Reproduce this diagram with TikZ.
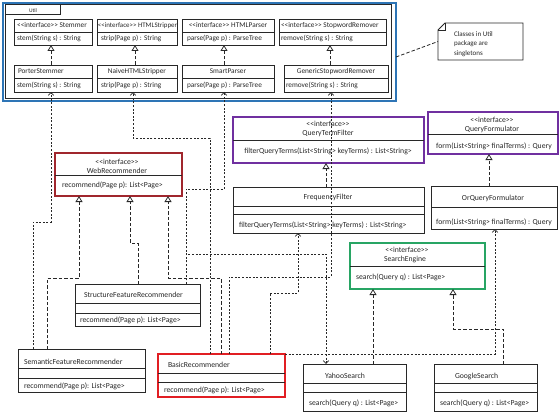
\documentclass[tikz,border=0pt]{standalone}
\usepackage{fontspec}
\newfontfamily\umlfont{Carlito}
\usetikzlibrary{arrows.meta}
\definecolor{pkgblue}{RGB}{46,117,182}
\definecolor{webred}{RGB}{160,38,45}
\definecolor{basicred}{RGB}{225,30,35}
\definecolor{qpurple}{RGB}{112,48,160}
\definecolor{segreen}{RGB}{40,165,100}
\definecolor{ink}{RGB}{40,40,40}
\newcommand{\umlbox}[6][]{%
  \node[classbox,#1,minimum width={(#5-#3)*1pt},minimum height={(#6-#4)*1pt}] (#2) at ({(#3+#5)/2},{(#4+#6)/2}) {};}
\newcommand{\hdiv}[2]{\draw[divline] (#1.west |- 0,#2) -- (#1.east |- 0,#2);}
\begin{document}
\begin{tikzpicture}[x=1pt,y=-1pt,
  every node/.style={font=\umlfont\fontsize{7.7}{8.5}\selectfont, text=ink, inner sep=0pt, outer sep=0pt},
  utiltext/.style={font=\umlfont\fontsize{7.3}{8}\selectfont},
  classbox/.style={draw=ink, line width=0.8pt, fill=white},
  colbox/.style={line width=1.4pt},
  lft/.style={anchor=west},
  divline/.style={draw=ink, line width=0.8pt},
  real/.style={draw=ink, line width=0.8pt, dash pattern=on 3.5pt off 2pt, -{Triangle[length=6pt, width=7pt, fill=white]}},
  dep/.style={draw=ink, line width=0.8pt, dash pattern=on 2pt off 1.6pt, -{Straight Barb[length=2.8pt, width=5.5pt]}},
  notelink/.style={draw=ink, line width=0.8pt, dash pattern=on 3.5pt off 2pt},
]
\fill[white] (0,0) rectangle (560,420);
\useasboundingbox (0,0) rectangle (560,420);

% ---------- Util package ----------
\node[draw=pkgblue, line width=1.5pt, minimum width=393pt, minimum height=98pt] (pkghl) at (199.5,52) {};
\node[draw=ink, line width=0.8pt, minimum width=386pt, minimum height=94pt] (pkg) at (198,51) {};
\draw[ink, line width=0.8pt] (pkg.north west) ++(0,10) -- ++(55,0) -- ++(0,-10);
\node[font=\umlfont\fontsize{5.5}{6}\selectfont] (utilt) at (33,10.5) {Util};

% row 1 interfaces
\umlbox{stemmer}{14}{19}{92}{45}
\umlbox{hstrip}{97}{19}{177}{45}
\umlbox{hparse}{182}{19}{274}{45}
\umlbox{swrem}{279}{19}{386}{45}
\hdiv{stemmer}{32}\hdiv{hstrip}{32}\hdiv{hparse}{32}\hdiv{swrem}{32}
\node[utiltext] (t1) at (52,25.5) {<<interface>> Stemmer};
\node[utiltext,lft] (t2) at (17,38.5) {stem(String s) : String};
\node[font=\umlfont\fontsize{6.9}{8}\selectfont] (t3) at (137.5,25.5) {<<interface>> HTMLStripper};
\node[utiltext,lft] (t4) at (101,38.5) {strip(Page p) : String};
\node[utiltext] (t5) at (228,25.5) {<<interface>> HTMLParser};
\node[utiltext,lft] (t6) at (187,38.5) {parse(Page p) : ParseTree};
\node[utiltext,lft] (t7) at (281,25.5) {<<interface>> StopwordRemover};
\node[utiltext,lft] (t8) at (281,38.5) {remove(String s) : String};

% row 2 implementations
\umlbox{porter}{14}{65}{92}{92}
\umlbox{naive}{97}{65}{177}{92}
\umlbox{smart}{182}{65}{274}{92}
\umlbox{generic}{284}{65}{388}{92}
\hdiv{porter}{78}\hdiv{naive}{78}\hdiv{smart}{78}\hdiv{generic}{78}
\node[utiltext,lft] (t9) at (18,71.5) {PorterStemmer};
\node[utiltext,lft] (t10) at (17,85) {stem(String s) : String};
\node[utiltext] (t11) at (137,71.5) {NaiveHTMLStripper};
\node[utiltext,lft] (t12) at (101,85) {strip(Page p) : String};
\node[utiltext] (t13) at (228,71.5) {SmartParser};
\node[utiltext] (t15) at (336,71.5) {GenericStopwordRemover};
\node[utiltext,lft] (t14) at (187,85) {parse(Page p) : ParseTree};
\node[utiltext,lft] (t16) at (286,85) {remove(String s) : String};

% ---------- note ----------
\node[minimum width=85pt, minimum height=37pt] (note) at (480.5,41.5) {};
\draw[ink, line width=0.8pt, fill=white] (note.north west) ++(7,0) -- (note.north east) -- (note.south east) -- (note.south west) -- ++(0,-30) -- cycle;
\draw[ink, line width=0.8pt] (note.north west) ++(7,0) -- ++(0,7) -- ++(-7,0);
\node[lft, align=left, font=\umlfont\fontsize{7}{9.5}\selectfont] (notet) at (454,44) {Classes in Util\\package are\\singletons};
\draw[notelink] (pkghl.east |- 0,57) -- (note.west);

% ---------- query classes ----------
\umlbox[draw=qpurple, colbox]{qtf}{233}{117}{424}{163}
\hdiv{qtf}{140}
\node (t17) at (328,124) {<<interface>>};
\node (t18) at (328,133.5) {QueryTermFilter};
\node (t19) at (328,151.5) {filterQueryTerms(List<String> keyTerms) : List<String>};

\umlbox[draw=qpurple, colbox]{qf}{428}{112}{558}{154}
\hdiv{qf}{134}
\node (t20) at (492,120) {<<interface>>};
\node (t21) at (492,129) {QueryFormulator};
\node (t22) at (494,146.5) {form(List<String> finalTerms) : Query};

\umlbox{freq}{233}{187}{424}{233}
\hdiv{freq}{206}\hdiv{freq}{214}
\node (t23) at (328,197.5) {FrequencyFilter};
\node[lft] (t24) at (239,225) {filterQueryTerms(List<String> keyTerms) : List<String>};

\umlbox{orq}{431}{186}{557}{229}
\hdiv{orq}{207}
\node (t25) at (493,198) {OrQueryFormulator};
\node (t26) at (494,222) {form(List<String> finalTerms) : Query};

% ---------- recommenders ----------
\umlbox[draw=webred, colbox]{web}{55}{153}{182}{196}
\hdiv{web}{175}
\node (t27) at (117,162) {<<interface>>};
\node (t28) at (117,171) {WebRecommender};
\node[lft] (t29) at (62,185) {recommend(Page p): List<Page>};

\umlbox{struct}{75}{284}{200}{326}
\hdiv{struct}{303}\hdiv{struct}{313}
\node[lft] (t30) at (84,295) {StructureFeatureRecommender};
\node[lft] (t31) at (80,320) {recommend(Page p): List<Page>};

\umlbox{sem}{18}{349}{145}{392}
\hdiv{sem}{368}\hdiv{sem}{378}
\node[lft] (t32) at (24,362) {SemanticFeatureRecommender};
\node[lft] (t33) at (24,386) {recommend(Page p): List<Page>};

\umlbox[draw=basicred, colbox]{basic}{158}{354}{285}{397}
\hdiv{basic}{373}\hdiv{basic}{382}
\node[lft] (t34) at (168,365) {BasicRecommender};
\node[lft] (t35) at (164,390) {recommend(Page p): List<Page>};

% ---------- search ----------
\umlbox[draw=segreen, colbox]{se}{350}{243}{485}{289}
\hdiv{se}{266}
\node (t36) at (407,250) {<<interface>>};
\node (t37) at (405,259) {SearchEngine};
\node[lft] (t38) at (356,277) {search(Query q) : List<Page>};

\umlbox{yahoo}{303}{364}{406}{411}
\hdiv{yahoo}{383}\hdiv{yahoo}{392}
\node[lft] (t39) at (325,376) {YahooSearch};
\node[lft] (t40) at (309,403) {search(Query q) : List<Page>};

\umlbox{google}{434}{364}{537}{411}
\hdiv{google}{383}\hdiv{google}{392}
\node[lft] (t41) at (455,376) {GoogleSearch};
\node[lft] (t42) at (440,403) {search(Query q) : List<Page>};

% ---------- realizations ----------
\draw[real] (porter.north -| 51,0) -- (stemmer.south -| 51,0);
\draw[real] (naive.north -| 135,0) -- (hstrip.south -| 135,0);
\draw[real] (smart.north -| 224,0) -- (hparse.south -| 224,0);
\draw[real] (generic.north -| 330,0) -- (swrem.south -| 330,0);
\draw[real] (freq.north -| 326,0) -- (qtf.south -| 326,0);
\draw[real] (orq.north -| 489,0) -- (qf.south -| 489,0);
\draw[real] (sem.north -| 47,0) -- (47,278) -- (79,278) -- (web.south -| 79,0);
\draw[real] (struct.north -| 138,0) -- (138,243) -- (130,243) -- (web.south -| 130,0);
\draw[real] (basic.north -| 221,0) -- (221,278) -- (168,278) -- (web.south -| 168,0);
\draw[real] (yahoo.north -| 373,0) -- (se.south -| 373,0);
\draw[real] (google.north -| 503,0) -- (503,329) -- (453,329) -- (se.south -| 453,0);

% ---------- dependencies ----------
\draw[dep] (sem.north -| 33,0) -- (33,222) -- (51,222) -- (porter.south -| 51,0);
\draw[dep] (basic.north -| 210,0) -- (210,138) -- (133,138) -- (naive.south -| 133,0);
\draw[dep] (struct.north -| 186,0) -- (186,189) -- (224,189) -- (smart.south -| 224,0);
\draw[dep] (struct.north -| 186,0) -- (186,254) -- (326,254) -- (yahoo.north -| 326,0);
\draw[dep] (basic.north -| 229,0) -- (229,277) -- (331,277) -- (generic.south -| 331,0);
\draw[dep] (basic.north -| 270,0) -- (270,293) -- (298,293) -- (freq.south -| 298,0);
\draw[dep] (basic.north east) -- (495,354) -- (orq.south -| 495,0);
\end{tikzpicture}
\end{document}
